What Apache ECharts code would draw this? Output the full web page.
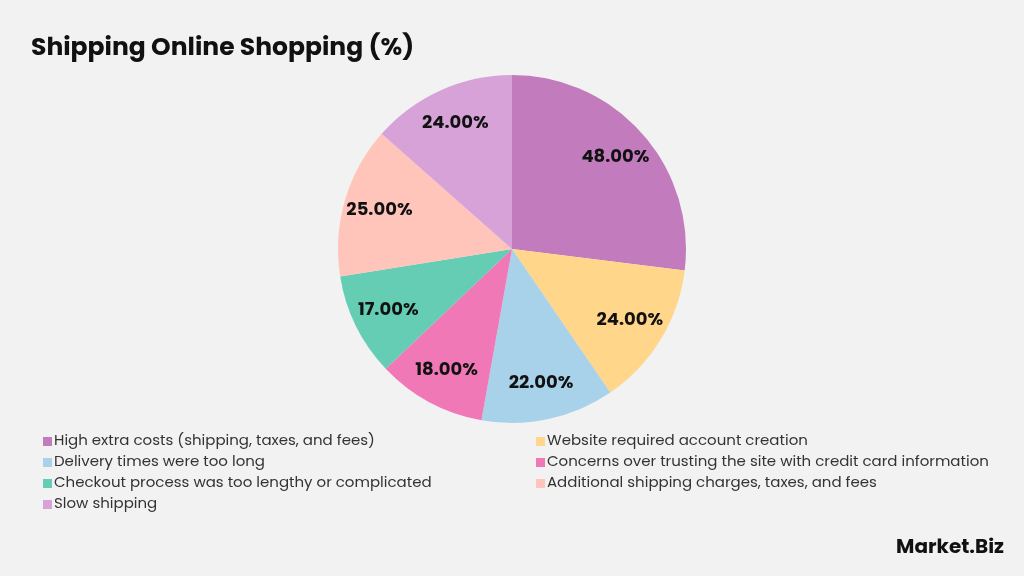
<!DOCTYPE html>
<html>
<head>
<meta charset="utf-8">
<script src="https://cdn.jsdelivr.net/npm/echarts@6/dist/echarts.min.js"></script>
<style>
  html, body { margin: 0; padding: 0; background: #f2f2f2; }
  #chart { width: 1024px; height: 576px; }
</style>
</head>
<body>
<div id="chart"></div>
<script>
var categories = [
    'High extra costs (shipping, taxes, and fees)',
    'Website required account creation',
    'Delivery times were too long',
    'Concerns over trusting the site with credit card information',
    'Checkout process was too lengthy or complicated',
    'Additional shipping charges, taxes, and fees',
    'Slow shipping'
];
var values = [48, 24, 22, 18, 17, 25, 24];
var colors = ['#C27BBD', '#FFD68A', '#A8D1EA', '#F178B6', '#66CDB5', '#FFC5BB', '#D6A2D8'];

var chart = echarts.init(document.getElementById('chart'));
var pieData = categories.map(function (name, i) {
    return { name: name, value: values[i], itemStyle: { color: colors[i] } };
});
var labelData = categories.map(function (name, i) {
    return { name: name, value: values[i] };
});

var fontFam = 'Poppins, Montserrat, "Open Sans", sans-serif';
var legendBase = {
    orient: 'vertical',
    top: 429,
    itemGap: 6,
    itemWidth: 9,
    itemHeight: 9,
    icon: 'rect',
    textStyle: { fontSize: 15, color: '#333', fontFamily: fontFam, padding: [0, 0, 0, -3] }
};

chart.setOption({
    backgroundColor: '#f2f2f2',
    title: {
        text: 'Shipping Online Shopping (%)',
        left: 26, top: 31,
        textStyle: { fontSize: 25, fontWeight: 'bold', color: '#111', fontFamily: fontFam }
    },
    legend: [
        Object.assign({}, legendBase, { left: 38, data: [categories[0], categories[2], categories[4], categories[6]] }),
        Object.assign({}, legendBase, { left: 531, data: [categories[1], categories[3], categories[5]] })
    ],
    graphic: [{
        type: 'text', right: 20, bottom: 18,
        style: { text: 'Market.Biz', fontSize: 20, fontWeight: 'bold', fill: '#111', fontFamily: fontFam }
    }],
    series: [{
        type: 'pie',
        center: [512, 249],
        radius: [0, 174],
        startAngle: 90,
        clockwise: true,
        label: { show: false },
        labelLine: { show: false },
        emphasis: { disabled: true },
        data: pieData
    }, {
        type: 'pie',
        center: [512, 249],
        radius: [96, 174],
        startAngle: 90,
        silent: true,
        legendHoverLink: false,
        itemStyle: { color: 'rgba(0,0,0,0)' },
        label: {
            show: true, position: 'inside',
            formatter: function (p) { return p.value.toFixed(2) + '%'; },
            fontSize: 18, fontWeight: 'bold', color: '#111', fontFamily: fontFam
        },
        data: labelData
    }]
});
</script>
</body>
</html>
